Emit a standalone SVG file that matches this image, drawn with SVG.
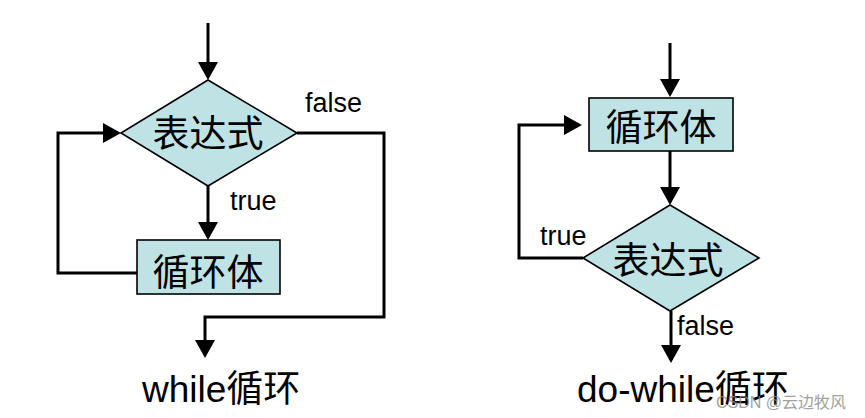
<svg xmlns="http://www.w3.org/2000/svg" width="865" height="418" viewBox="0 0 865 418">
<defs>
<marker id="arr" markerUnits="userSpaceOnUse" markerWidth="20" markerHeight="20" refX="15" refY="10" orient="auto">
<path d="M0,0 L18,10 L0,20 z" fill="#000"/>
</marker>
<style>
.shape{fill:#BFE3E4;stroke:#000;stroke-width:1.6}
.conn{fill:none;stroke:#000;stroke-width:3;marker-end:url(#arr)}
.cjk{font-family:"Noto Sans CJK SC",sans-serif;font-size:37px;fill:#000;text-anchor:middle}
.lbl{font-family:"Liberation Sans",Arial,sans-serif;font-size:27px;fill:#000}
.title{font-family:"Liberation Sans","Noto Sans CJK SC",sans-serif;font-size:37px;fill:#000}
.wm{font-family:"Liberation Sans","Noto Sans CJK SC",sans-serif;font-size:16px;fill:#8a8a8a;opacity:0.8}
</style>
</defs>
<rect width="865" height="418" fill="#fff"/>
<g id="connectors">
<path class="conn" d="M208,23 V77"/>
<path class="conn" d="M208,185 V237"/>
<path class="conn" d="M137,273 H58 V133 H118"/>
<path class="conn" d="M297,133 H384 V317 H205 V355"/>
<path class="conn" d="M670,43 V94"/>
<path class="conn" d="M670,151 V202"/>
<path class="conn" d="M583,258 H519 V125 H579"/>
<path class="conn" d="M671,311 V360"/>
</g>
<g id="w-cond">
<polygon class="shape" points="208,80 297,133 208,186 121,133"/>
<text class="cjk" x="208" y="147">表达式</text>
</g>
<g id="w-body">
<rect class="shape" x="137" y="240" width="143" height="54"/>
<text class="cjk" x="208" y="286">循环体</text>
</g>
<g id="d-body">
<rect class="shape" x="589" y="98" width="144" height="53"/>
<text class="cjk" x="661" y="141">循环体</text>
</g>
<g id="d-cond">
<polygon class="shape" points="670,205 759,258 670,311 583,258"/>
<text class="cjk" x="668" y="274">表达式</text>
</g>
<g id="labels">
<text class="lbl" x="305" y="112">false</text>
<text class="lbl" x="230" y="210">true</text>
<text class="lbl" x="540" y="245">true</text>
<text class="lbl" x="677" y="335">false</text>
<text class="title" x="142" y="402">while循环</text>
<text class="title" x="577" y="402">do-while循环</text>
<text class="wm" x="716" y="408">CSDN @云边牧风</text>
</g>
</svg>
